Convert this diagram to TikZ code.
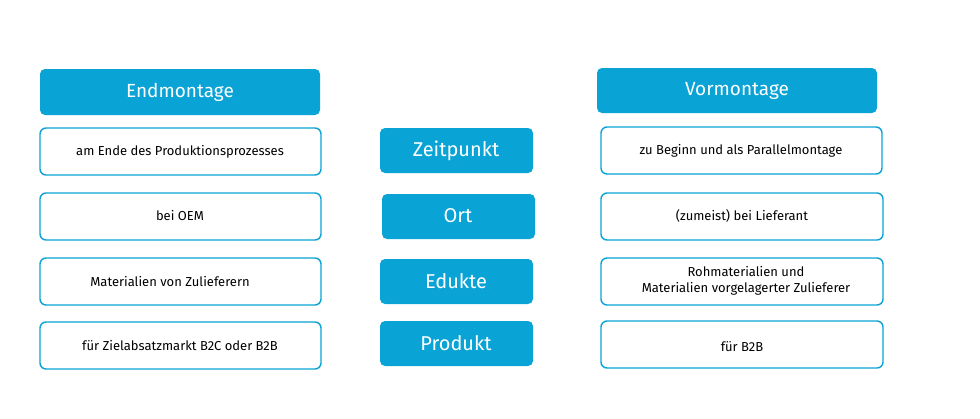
\documentclass[tikz,border=0pt]{standalone}
\usepackage{fontspec}
\setmainfont{Fira Sans}
\definecolor{cblue}{HTML}{0AA3D6}
\begin{document}
\begin{tikzpicture}[x=1pt,y=-1pt,
  hdr/.style={fill=cblue,draw=none,rounded corners=5pt,text=white,font=\fontsize{19}{22}\selectfont},
  mid/.style={fill=cblue,draw=none,rounded corners=5pt,text=white,font=\fontsize{20}{24}\selectfont},
  wbox/.style={fill=white,draw=cblue,line width=1.4pt,rounded corners=6pt,font=\fontsize{13}{16}\selectfont,align=center}]
\useasboundingbox (0,0) rectangle (980,418);
\newcommand{\bx}[6]{\path[#1] (#2,#3) rectangle (#4,#5);\node[text=#6] at ({(#2+#4)/2},{(#3+#5)/2})}
\path[hdr] (40,69) rectangle (320,115); \node[text=white,font=\fontsize{19}{22}\selectfont] (lh) at (180,92) {Endmontage};
\path[hdr] (597,68) rectangle (877,113); \node[text=white,font=\fontsize{19}{22}\selectfont] (rh) at (737,91) {Vormontage};
\path[wbox] (40,128) rectangle (321,175); \node[font=\fontsize{13}{16}\selectfont] (l1) at (180,152) {am Ende des Produktionsprozesses};
\path[wbox] (40,193) rectangle (321,240); \node[font=\fontsize{13}{16}\selectfont] (l2) at (180,216) {bei OEM};
\path[wbox] (40,258) rectangle (321,305); \node[font=\fontsize{13}{16}\selectfont] (l3) at (170,282) {Materialien von Zulieferern};
\path[wbox] (40,322) rectangle (321,369); \node[font=\fontsize{13}{16}\selectfont] (l4) at (180,346) {für Zielabsatzmarkt B2C oder B2B};
\path[mid] (380,128) rectangle (533,173); \node[text=white,font=\fontsize{20}{24}\selectfont] (m1) at (456,151) {Zeitpunkt};
\path[mid] (382,194) rectangle (535,239); \node[text=white,font=\fontsize{20}{24}\selectfont] (m2) at (458,216) {Ort};
\path[mid] (380,259) rectangle (533,304); \node[text=white,font=\fontsize{20}{24}\selectfont] (m3) at (456,281) {Edukte};
\path[mid] (380,321) rectangle (533,366); \node[text=white,font=\fontsize{20}{24}\selectfont] (m4) at (456,343) {Produkt};
\path[wbox] (601,127) rectangle (882,174); \node[font=\fontsize{13}{16}\selectfont] (r1) at (741,151) {zu Beginn und als Parallelmontage};
\path[wbox] (601,193) rectangle (883,240); \node[font=\fontsize{13}{16}\selectfont] (r2) at (742,216) {(zumeist) bei Lieferant};
\path[wbox] (601,258) rectangle (883,305); \node[font=\fontsize{13}{16}\selectfont,align=center] (r3) at (746,281) {Rohmaterialien und\\Materialien vorgelagerter Zulieferer};
\path[wbox] (601,321) rectangle (883,368); \node[font=\fontsize{13}{16}\selectfont] (r4) at (742,347) {für B2B};
\end{tikzpicture}
\end{document}
